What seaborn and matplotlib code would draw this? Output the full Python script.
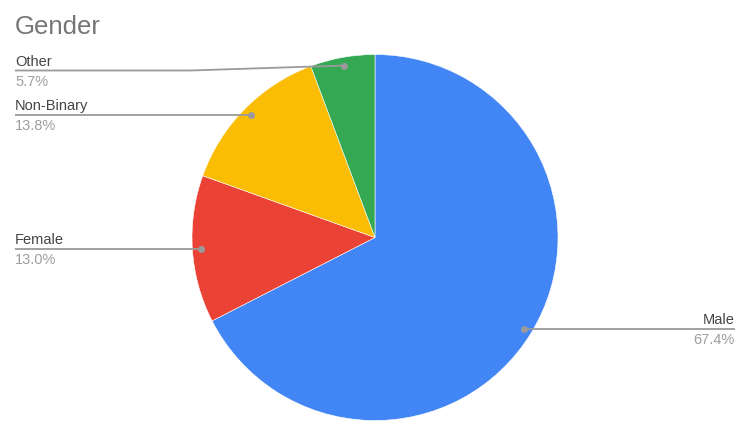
import numpy as np
import matplotlib
matplotlib.use("Agg")
import matplotlib.pyplot as plt
import seaborn as sns

# ---- data ----
categories = ["Male", "Female", "Non-Binary", "Other"]
shares = [67.4, 13.0, 13.8, 5.7]
pct_labels = ["67.4%", "13.0%", "13.8%", "5.7%"]
colors = ["#4285F4", "#EA4335", "#FBBC04", "#34A853"]
title = "Gender"

sns.set_theme(style="white")
plt.rcParams["font.family"] = ["Liberation Sans", "DejaVu Sans"]

W, H = 755, 436
fig = plt.figure(figsize=(W / 100, H / 100), dpi=100)
ax = fig.add_axes([0, 0, 1, 1])

cx, cy_px, r = 375, 237.5, 183
cy = H - cy_px

wedges, _ = ax.pie(shares, colors=colors, startangle=90, counterclock=False,
                   center=(cx, cy), radius=r, frame=True,
                   wedgeprops=dict(edgecolor="white", linewidth=0.4))
ax.set_xlim(0, W)
ax.set_ylim(0, H)
ax.set_aspect("equal")
ax.axis("off")

line_col = "#9a9a9a"
total = sum(shares)
cum = 0.0
for name, val, pl in zip(categories, shares, pct_labels):
    mid = 90 - 360 * (cum + val / 2) / total
    cum += val
    a = np.deg2rad(mid)
    dx, dy = cx + 0.955 * r * np.cos(a), cy + 0.955 * r * np.sin(a)
    ax.plot([dx], [dy], "o", ms=4, color=line_col, zorder=5)
    ly_px = max(H - dy, 70.5)
    ly = H - ly_px
    if np.cos(a) >= 0:
        xs, ys = [dx, 735], [dy, ly]
        tx, ha = 735, "right"
    else:
        xs, ys = [15, cx - r - 2, dx], [ly, ly, dy]
        tx, ha = 15, "left"
    ax.plot(xs, ys, color=line_col, lw=1.3, zorder=4, solid_capstyle="butt")
    ax.text(tx, ly + 5, name, ha=ha, va="baseline", fontsize=10.5, color="#444444")
    ax.text(tx, ly - 15, pl, ha=ha, va="baseline", fontsize=10.5, color="#9e9e9e")

ax.text(15, H - 33.5, title, ha="left", va="baseline", fontsize=18.5, color="#757575")

fig.savefig("out.png", dpi=100)
